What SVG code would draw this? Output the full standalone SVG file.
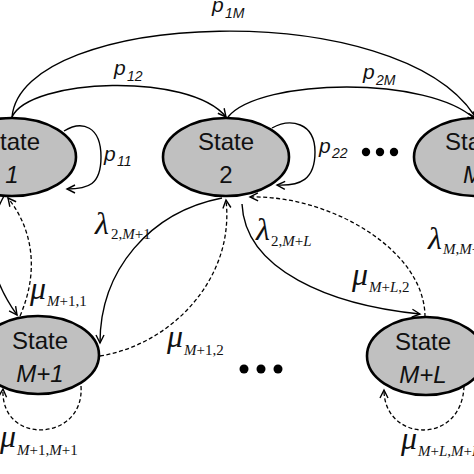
<svg xmlns="http://www.w3.org/2000/svg" width="474" height="474" viewBox="0 0 474 474">
<defs>
<marker id="arr" markerUnits="userSpaceOnUse" markerWidth="12" markerHeight="12" refX="9" refY="5" orient="auto">
<path d="M1,1 L9,5 L1,9" fill="none" stroke="#000" stroke-width="1.4"/>
</marker>
</defs>
<style>
.st{fill:#c0c0c0;stroke:#000;stroke-width:2.6}
.lbl{font-family:"Liberation Sans",Arial,sans-serif;font-size:24px;fill:#111;text-anchor:middle}
.it{font-style:italic}
.e{fill:none;stroke:#000;stroke-width:1.4}
.d{fill:none;stroke:#000;stroke-width:1.3;stroke-dasharray:4 2.5}
.p{font-family:"Liberation Sans",Arial,sans-serif;font-style:italic;font-size:21px;fill:#111}
.ps{font-family:"Liberation Sans",Arial,sans-serif;font-style:italic;font-size:14px;fill:#111}
.g{font-family:"Liberation Serif","Times New Roman",serif;font-style:italic;font-size:32px;fill:#111}
.gs{font-family:"Liberation Serif","Times New Roman",serif;font-size:15px;fill:#111}
</style>
<rect width="474" height="474" fill="#fff"/>
<g id="connectors">
<path class="e" d="M12 117 C22 10, 400 -5, 476 118" marker-end="url(#arr)"/>
<path class="e" d="M12 117 C30 78, 190 72, 226 117" marker-end="url(#arr)"/>
<path class="e" d="M228 117 C260 78, 430 75, 476 120" marker-end="url(#arr)"/>
<path class="e" d="M64 131 C82 120, 101 126, 101 157 C101 185, 88 189, 67 189" marker-end="url(#arr)"/>
<path class="e" d="M272 128 C290 118, 315 122, 315 152 C315 180, 300 186, 277 185" marker-end="url(#arr)"/>
<path class="e" d="M4 196 C-15 230, -15 270, 17 315" marker-end="url(#arr)"/>
<path class="d" d="M20 316 C40 270, 32 228, 8 198" marker-end="url(#arr)"/>
<path class="e" d="M222 198 C150 212, 100 270, 100 343" marker-end="url(#arr)"/>
<path class="d" d="M100 356 C170 345, 235 280, 226 200" marker-end="url(#arr)"/>
<path class="e" d="M242 204 C245 270, 330 305, 420 314" marker-end="url(#arr)"/>
<path class="d" d="M425 317 C425 250, 330 195, 250 197" marker-end="url(#arr)"/>
<path class="d" d="M81 386 C85 442, 0 446, 3 389" marker-end="url(#arr)"/>
<path class="d" d="M464 386 C462 446, 384 442, 384 390" marker-end="url(#arr)"/>
</g>
<g id="state1">
<ellipse class="st" cx="12" cy="157" rx="64" ry="39"/>
<text class="lbl" x="12" y="150">State</text>
<text class="lbl it" x="12" y="183">1</text>
</g>
<g id="state2">
<ellipse class="st" cx="226" cy="157" rx="63" ry="39"/>
<text class="lbl" x="226" y="150">State</text>
<text class="lbl" x="226" y="183">2</text>
</g>
<g id="stateM">
<ellipse class="st" cx="476" cy="157" rx="62" ry="39"/>
<text class="lbl" x="473" y="150">State</text>
<text class="lbl it" x="473" y="183">M</text>
</g>
<g id="stateM1">
<ellipse class="st" cx="38" cy="355" rx="61" ry="39"/>
<text class="lbl" x="40" y="349">State</text>
<text class="lbl it" x="40" y="382">M+1</text>
</g>
<g id="stateML">
<ellipse class="st" cx="426" cy="356" rx="59" ry="39"/>
<text class="lbl" x="423" y="350">State</text>
<text class="lbl it" x="423" y="383">M+L</text>
</g>
<g id="dots">
<circle cx="366" cy="152" r="4.2"/><circle cx="380" cy="152" r="4.2"/><circle cx="394" cy="152" r="4.2"/>
<circle cx="244" cy="369" r="4.5"/><circle cx="261" cy="369" r="4.5"/><circle cx="278" cy="369" r="4.5"/>
</g>
<g id="labels">
<text class="p" x="212" y="12">p</text><text class="ps" x="225" y="18">1M</text>
<text class="p" x="114" y="75">p</text><text class="ps" x="127" y="81">12</text>
<text class="p" x="363" y="79">p</text><text class="ps" x="376" y="85">2M</text>
<text class="p" x="104" y="161">p</text><text class="ps" x="117" y="166">11</text>
<text class="p" x="319" y="153">p</text><text class="ps" x="332" y="158">22</text>
<text class="g" x="95" y="234">λ</text><text class="gs" x="111" y="239">2,<tspan font-style="italic">M</tspan>+1</text>
<text class="g" x="256" y="240">λ</text><text class="gs" x="271" y="246">2,<tspan font-style="italic">M</tspan>+<tspan font-style="italic">L</tspan></text>
<text class="g" x="428" y="249">λ</text><text class="gs" x="443" y="254"><tspan font-style="italic">M</tspan>,<tspan font-style="italic">M</tspan>+<tspan font-style="italic">L</tspan></text>
<text class="g" x="30" y="299">μ</text><text class="gs" x="47" y="306"><tspan font-style="italic">M</tspan>+1,1</text>
<text class="g" x="167" y="347">μ</text><text class="gs" x="184" y="355"><tspan font-style="italic">M</tspan>+1,2</text>
<text class="g" x="0" y="447">μ</text><text class="gs" x="17" y="455"><tspan font-style="italic">M</tspan>+1,<tspan font-style="italic">M</tspan>+1</text>
<text class="g" x="352" y="285">μ</text><text class="gs" x="369" y="292"><tspan font-style="italic">M</tspan>+<tspan font-style="italic">L</tspan>,2</text>
<text class="g" x="401" y="449">μ</text><text class="gs" x="418" y="456"><tspan font-style="italic">M</tspan>+<tspan font-style="italic">L</tspan>,<tspan font-style="italic">M</tspan>+<tspan font-style="italic">L</tspan></text>
</g>
</svg>
